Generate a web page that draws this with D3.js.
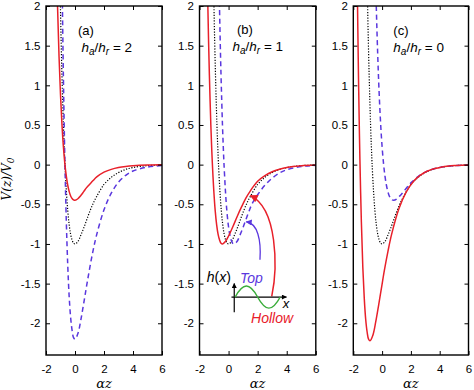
<!DOCTYPE html>
<html><head><meta charset="utf-8">
<script src="https://cdn.jsdelivr.net/npm/d3@7"></script>
<style>body{margin:0;background:#fff}</style>
</head><body><svg id="c" width="474" height="390"></svg>
<script>
const zTicks=[-2,0,2,4,6];
const vTicks=[-2,-1.5,-1,-0.5,0,0.5,1,1.5,2];
const panelTags=["(a)","(b)","(c)"];
const ratioValues=["2","1","0"];
const flatCurve=[[-1.1,3.02],[-1.0,1.95],[-0.95,1.51],[-0.9,1.13],[-0.85,0.80],[-0.8,0.50],[-0.75,0.25],[-0.7,0.03],[-0.6,-0.32],[-0.5,-0.58],[-0.4,-0.76],[-0.3,-0.88],[-0.2,-0.95],[-0.1,-0.99],[0,-1],[0.2,-0.97],[0.4,-0.89],[0.6,-0.80],[0.8,-0.70],[1.0,-0.60],[1.25,-0.49],[1.5,-0.40],[2,-0.25],[2.5,-0.16],[3,-0.10],[3.5,-0.06],[4,-0.036],[5,-0.013],[6,-0.005]];
const hollowA=[[-1.3,2.75],[-1.2,1.97],[-1.1,1.36],[-1.0,0.88],[-0.9,0.51],[-0.8,0.225],[-0.7,0.012],[-0.6,-0.146],[-0.5,-0.26],[-0.4,-0.34],[-0.3,-0.395],[-0.2,-0.428],[-0.1,-0.445],[0,-0.45],[0.2,-0.43],[0.4,-0.39],[0.6,-0.34],[0.8,-0.29],[1.0,-0.25],[1.25,-0.2],[1.5,-0.155],[2,-0.095],[2.5,-0.06],[3,-0.037],[3.5,-0.023],[4,-0.014],[5,-0.005],[6,-0.002]];
const topA=[[-0.95,3.32],[-0.9,2.49],[-0.85,1.75],[-0.8,1.10],[-0.75,0.55],[-0.7,0.06],[-0.6,-0.71],[-0.5,-1.27],[-0.4,-1.67],[-0.3,-1.93],[-0.2,-2.09],[-0.1,-2.18],[0,-2.2],[0.2,-2.13],[0.4,-1.96],[0.6,-1.75],[0.8,-1.53],[1.0,-1.32],[1.25,-1.08],[1.5,-0.88],[2,-0.57],[2.5,-0.36],[3,-0.22],[3.5,-0.135],[4,-0.08],[5,-0.03],[6,-0.011]];
const hollowB=[[-1.52,3.02],[-1.42,1.95],[-1.37,1.51],[-1.32,1.13],[-1.27,0.80],[-1.22,0.50],[-1.17,0.25],[-1.12,0.03],[-1.02,-0.32],[-0.92,-0.58],[-0.82,-0.76],[-0.72,-0.88],[-0.62,-0.95],[-0.52,-0.99],[-0.42,-1.0],[-0.22,-0.97],[0,-0.9],[0.3,-0.78],[0.6,-0.65],[0.9,-0.53],[1.2,-0.42],[1.5,-0.33],[2,-0.21],[2.5,-0.14],[3,-0.09],[3.5,-0.058],[4,-0.036],[5,-0.014],[6,-0.005]];
const topB=[[-0.72,3.02],[-0.62,1.95],[-0.57,1.51],[-0.52,1.13],[-0.47,0.80],[-0.42,0.50],[-0.37,0.25],[-0.32,0.03],[-0.22,-0.32],[-0.12,-0.58],[-0.02,-0.76],[0.08,-0.88],[0.18,-0.95],[0.28,-0.99],[0.38,-1.0],[0.58,-0.97],[0.78,-0.89],[0.98,-0.80],[1.18,-0.70],[1.38,-0.60],[1.63,-0.49],[2,-0.38],[2.5,-0.26],[3,-0.17],[3.5,-0.105],[4,-0.065],[5,-0.024],[6,-0.009]];
const hollowC=[[-1.79,3.35],[-1.74,2.51],[-1.69,1.77],[-1.64,1.11],[-1.59,0.55],[-1.54,0.06],[-1.44,-0.72],[-1.34,-1.29],[-1.24,-1.68],[-1.14,-1.95],[-1.04,-2.11],[-0.94,-2.20],[-0.84,-2.22],[-0.64,-2.15],[-0.44,-1.98],[-0.24,-1.77],[-0.04,-1.55],[0.16,-1.33],[0.41,-1.09],[0.66,-0.88],[1.16,-0.56],[1.66,-0.35],[2.16,-0.215],[2.66,-0.133],[3.16,-0.08],[4.16,-0.03],[5.16,-0.011],[6,-0.005]];
const topC=[[-0.5,2.75],[-0.4,1.97],[-0.3,1.36],[-0.2,0.88],[-0.1,0.51],[0,0.225],[0.1,0.012],[0.2,-0.146],[0.3,-0.26],[0.4,-0.34],[0.5,-0.395],[0.6,-0.428],[0.7,-0.445],[0.8,-0.45],[1.0,-0.435],[1.2,-0.40],[1.4,-0.36],[1.6,-0.315],[1.8,-0.27],[2.0,-0.23],[2.5,-0.15],[3.0,-0.094],[3.5,-0.058],[4.0,-0.036],[5,-0.0135],[6,-0.005]];
const hollowSeries=[hollowA,hollowB,hollowC];
const topSeries=[topA,topB,topC];

const RED="#e8202a", BLUE="#5a37de", GREEN="#3aad3a";
const svg=d3.select("#c");
const defs=svg.append("defs");
const layout=[{x0:46,x1:162,tag:[32,35],rat:[35.5,52]},{x0:199.5,x1:315.8,tag:[37.5,34],rat:[33,51]},{x0:353.3,x1:468.5,tag:[40,35],rat:[40,52]}];
const yTop=6,yBot=355;
const y=d3.scaleLinear().domain([-2.4,2]).range([yBot,yTop]);

function mk(id,color,w,h){
  defs.append("marker").attr("id",id).attr("viewBox","0 0 10 10").attr("refX",9).attr("refY",5)
   .attr("markerWidth",w).attr("markerHeight",h).attr("markerUnits","userSpaceOnUse").attr("orient","auto")
   .append("path").attr("d","M0,0L10,5L0,10Z").attr("fill",color);
}
mk("arR",RED,11,8);mk("arB",BLUE,8,6);mk("arK","#000",6,5);

layout.forEach((L,i)=>{
  const x=d3.scaleLinear().domain([-2,6]).range([L.x0,L.x1]);
  const g=svg.append("g");
  defs.append("clipPath").attr("id","clip"+i).append("rect").attr("x",L.x0).attr("y",yTop).attr("width",L.x1-L.x0).attr("height",yBot-yTop);
  const line=d3.line().x(d=>x(d[0])).y(d=>y(d[1])).curve(d3.curveCatmullRom.alpha(0.5));
  const pg=g.append("g").attr("clip-path",`url(#clip${i})`);
  pg.append("path").attr("d",line(flatCurve)).attr("fill","none").attr("stroke","#000").attr("stroke-width",1.2).attr("stroke-dasharray","1.2,1.6");
  pg.append("path").attr("d",line(topSeries[i])).attr("fill","none").attr("stroke",BLUE).attr("stroke-width",1.5).attr("stroke-dasharray","5,3.5");
  pg.append("path").attr("d",line(hollowSeries[i])).attr("fill","none").attr("stroke",RED).attr("stroke-width",1.5);

  const fmt=d=>String(d);
  const ax=(a,tr)=>{const s=g.append("g").attr("transform",tr).call(a);s.select(".domain").remove();s.selectAll("line").attr("stroke","#000").attr("stroke-width",1);return s;};
  const la=ax(d3.axisLeft(y).tickValues(vTicks).tickFormat(fmt).tickSize(-4).tickPadding(5.5),`translate(${L.x0},0)`);
  ax(d3.axisRight(y).tickValues(vTicks).tickFormat("").tickSize(-4),`translate(${L.x1},0)`);
  const ba=ax(d3.axisBottom(x).tickValues(zTicks).tickFormat(fmt).tickSize(-4).tickPadding(10),`translate(0,${yBot})`);
  ax(d3.axisTop(x).tickValues(zTicks).tickFormat("").tickSize(-4),`translate(0,${yTop})`);
  [la,ba].forEach(s=>s.selectAll("text").attr("font-family","Liberation Sans, Arial, sans-serif").attr("font-size","11.5px").attr("fill","#000"));
  g.append("rect").attr("x",L.x0).attr("y",yTop).attr("width",L.x1-L.x0).attr("height",yBot-yTop).attr("fill","none").attr("stroke","#000").attr("stroke-width",1.4);

  g.append("text").attr("x",L.x0+L.tag[0]).attr("y",L.tag[1]).attr("font-family","Liberation Sans, Arial, sans-serif").attr("font-size","13px").text(panelTags[i]);
  const t=g.append("text").attr("x",L.x0+L.rat[0]).attr("y",L.rat[1]).attr("font-family","Liberation Sans, Arial, sans-serif").attr("font-size","13.5px");
  t.append("tspan").attr("font-style","italic").text("h");
  t.append("tspan").attr("font-style","italic").attr("font-size","10px").attr("dy",3).text("a");
  t.append("tspan").attr("dy",-3).text("/");
  t.append("tspan").attr("font-style","italic").text("h");
  t.append("tspan").attr("font-style","italic").attr("font-size","10px").attr("dy",3).text("r");
  t.append("tspan").attr("dy",-3).text(" = "+ratioValues[i]);

  svg.append("text").attr("x",(L.x0+L.x1)/2).attr("y",388).attr("text-anchor","middle")
    .attr("font-family","DejaVu Serif, Liberation Serif, serif").attr("font-style","italic").attr("font-size","13px").text("αz");

  if(i===1){
    const P=d=>[x(d[0]),y(d[1])];
    const cub=(a,b,c,d)=>{const A=P(a),B=P(b),C=P(c),D=P(d);return `M${A}C${B} ${C} ${D}`;};
    g.append("path").attr("d",cub([2.97,-1.66],[3.38,-1.3],[3.38,-0.55],[1.5,-0.39])).attr("fill","none").attr("stroke",RED).attr("stroke-width",1.5).attr("marker-end","url(#arR)");
    g.append("path").attr("d",cub([2.16,-1.2],[2.25,-0.95],[2.0,-0.74],[1.22,-0.72])).attr("fill","none").attr("stroke",BLUE).attr("stroke-width",1.3).attr("marker-end","url(#arB)");
    const O=P([0.39,-1.67]);
    g.append("line").attr("x1",O[0]).attr("x2",O[0]).attr("y1",y(-1.86)).attr("y2",y(-1.5)).attr("stroke","#000").attr("stroke-width",1.2).attr("marker-end","url(#arK)");
    g.append("line").attr("x1",x(0.2)).attr("x2",x(3.98)).attr("y1",O[1]).attr("y2",O[1]).attr("stroke","#000").attr("stroke-width",1.2).attr("marker-end","url(#arK)");
    const s0=x(0.45), h=(x(3.55)-x(0.45))/2, A=y(-1.67)-y(-1.53);
    const sp=`M${s0},${O[1]}C${s0+0.36*h},${O[1]-1.33*A} ${s0+0.64*h},${O[1]-1.33*A} ${s0+h},${O[1]}C${s0+1.36*h},${O[1]+1.33*A} ${s0+1.64*h},${O[1]+1.33*A} ${s0+2*h},${O[1]}`;
    g.append("path").attr("d",sp).attr("fill","none").attr("stroke",GREEN).attr("stroke-width",1.3);
    const tx=(d,txt,col,sz,it)=>{const p=P(d);return g.append("text").attr("x",p[0]).attr("y",p[1]).attr("fill",col).attr("font-size",sz).attr("font-family","Liberation Sans, Arial, sans-serif").attr("font-style",it?"italic":"normal").text(txt);};
    const hx=tx([-1.5,-1.475],"","#000","14px",false);
    hx.append("tspan").attr("font-style","italic").text("h");
    hx.append("tspan").text("(");
    hx.append("tspan").attr("font-style","italic").text("x");
    hx.append("tspan").text(")");
    tx([0.79,-1.49],"Top",BLUE,"14px",true);
    tx([1.55,-2.0],"Hollow",RED,"14px",true);
    tx([3.72,-1.81],"x","#000","13px",true);
  }
});
const yl=svg.append("text").attr("transform","translate(11,179) rotate(-90)").attr("text-anchor","middle")
  .attr("font-family","DejaVu Serif, Liberation Serif, serif").attr("font-style","italic").attr("font-size","12px");
yl.append("tspan").text("V(z)/V");
yl.append("tspan").attr("font-size","9px").attr("dy",3).text("0");
</script></body></html>
